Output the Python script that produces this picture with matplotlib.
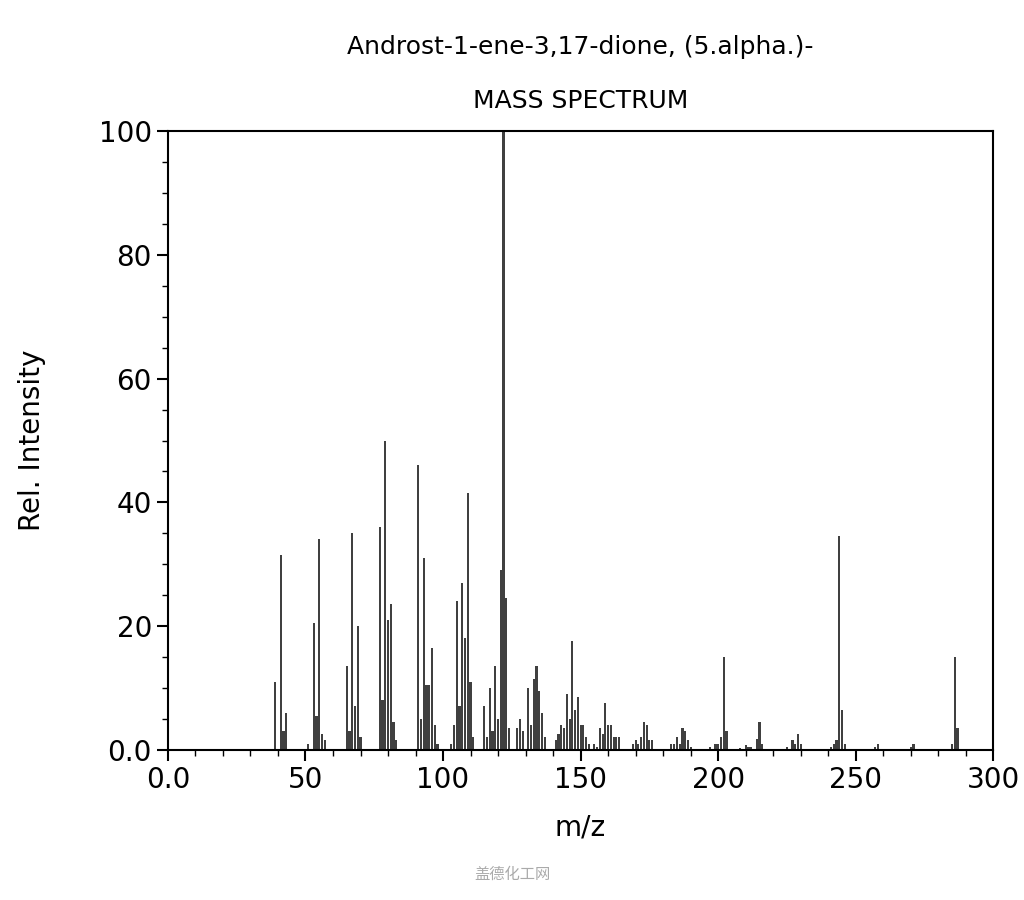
import matplotlib.pyplot as plt
from matplotlib.ticker import MultipleLocator, FixedFormatter, FixedLocator

mz = [39, 41, 42, 43, 51, 53, 54, 55, 56, 57,
      65, 66, 67, 68, 69, 70, 77, 78, 79, 80, 81, 82, 83,
      91, 92, 93, 94, 95, 96, 97, 98, 103, 104, 105, 106, 107, 108, 109, 110, 111,
      115, 116, 117, 118, 119, 120, 121, 122, 123, 124,
      127, 128, 129, 131, 132, 133, 134, 135, 136, 137,
      141, 142, 143, 144, 145, 146, 147, 148, 149, 150, 151, 152, 153,
      155, 156, 157, 158, 159, 160, 161, 162, 163, 164,
      169, 170, 171, 172, 173, 174, 175, 176,
      183, 184, 185, 186, 187, 188, 189, 190,
      197, 199, 200, 201, 202, 203, 208, 210, 211, 212, 214, 215, 216,
      225, 227, 228, 229, 230, 241, 242, 243, 244, 245, 246,
      257, 258, 270, 271, 285, 286, 287]
intensity = [11, 31.5, 3, 6, 1, 20.5, 5.5, 34, 2.5, 1.5,
             13.5, 3, 35, 7, 20, 2, 36, 8, 50, 21, 23.5, 4.5, 1.5,
             46, 5, 31, 10.5, 10.5, 16.5, 4, 1, 1, 4, 24, 7, 27, 18, 41.5, 11, 2,
             7, 2, 10, 3, 13.5, 5, 29, 100, 24.5, 3.5,
             3.5, 5, 3, 10, 4, 11.5, 13.5, 9.5, 6, 2,
             1.5, 2.5, 4, 3.5, 9, 5, 17.5, 6.5, 8.5, 4, 4, 2, 1,
             1, 0.5, 3.5, 2.5, 7.5, 4, 4, 2, 2, 2,
             1, 1.5, 1, 2, 4.5, 4, 1.5, 1.5,
             1, 1, 2, 1, 3.5, 3, 1.5, 0.5,
             0.5, 1, 1, 2, 15, 3, 0.3, 0.8, 0.5, 0.5, 1.8, 4.5, 1,
             0.5, 1.5, 1, 2.5, 1, 0.5, 1, 1.5, 34.5, 6.5, 1,
             0.5, 1, 0.5, 1, 1, 15, 3.5]

fig = plt.figure(figsize=(10.24, 9.0), dpi=100)
ax = fig.add_axes([0.164, 0.167, 0.806, 0.687])
ax.bar(mz, intensity, width=0.8, color='#404040')
ax.set_xlim(0, 300)
ax.set_ylim(0, 100)

ax.xaxis.set_major_locator(FixedLocator([0, 50, 100, 150, 200, 250, 300]))
ax.xaxis.set_major_formatter(FixedFormatter(['0.0', '50', '100', '150', '200', '250', '300']))
ax.xaxis.set_minor_locator(MultipleLocator(10))
ax.yaxis.set_major_locator(FixedLocator([0, 20, 40, 60, 80, 100]))
ax.yaxis.set_major_formatter(FixedFormatter(['0.0', '20', '40', '60', '80', '100']))
ax.yaxis.set_minor_locator(MultipleLocator(5))
ax.tick_params(which='major', direction='out', length=8, width=1.5, labelsize=20)
ax.tick_params(which='minor', direction='out', length=4, width=1)
ax.tick_params(top=False, right=False)
for s in ax.spines.values():
    s.set_linewidth(1.5)

ax.set_xlabel('m/z', fontsize=20, labelpad=14)
ax.set_ylabel('Rel. Intensity', fontsize=20, labelpad=38)
fig.text(0.567, 0.948, 'Androst-1-ene-3,17-dione, (5.alpha.)-', ha='center', va='center', fontsize=18)
fig.text(0.567, 0.888, 'MASS SPECTRUM', ha='center', va='center', fontsize=18)
fig.text(0.5, 0.028, '盖德化工网', ha='center', va='center', fontsize=11, color='#aaaaaa',
         family=['Noto Sans CJK SC', 'DejaVu Sans'])

fig.savefig('out.png', dpi=100)
